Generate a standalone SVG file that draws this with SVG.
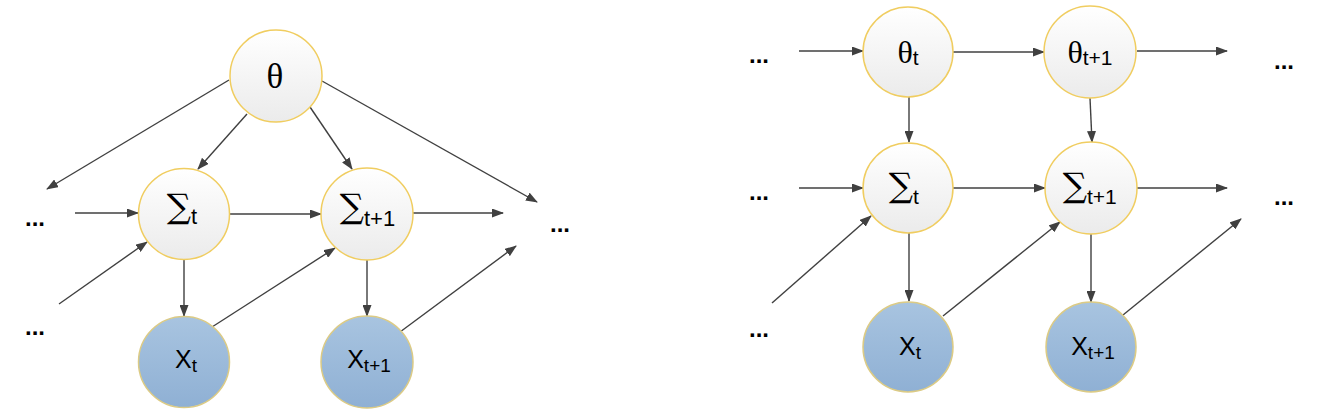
<svg xmlns="http://www.w3.org/2000/svg" width="1321" height="412" viewBox="0 0 1321 412">
<style>
.w{fill:url(#gw);stroke:#f0cd60;stroke-width:1.5}
.b{fill:url(#gb);stroke:#dccb85;stroke-width:1.5}
.e{stroke:#404040;stroke-width:1.4;fill:none;marker-end:url(#ah)}
.sym{font-family:"Liberation Serif","DejaVu Serif",serif;fill:#000}
.sig{font-family:"DejaVu Serif","Liberation Serif",serif;fill:#000;font-size:34px}
.sub{font-family:"Liberation Sans","DejaVu Sans",sans-serif;fill:#000}
.dots{font-family:"Liberation Sans","DejaVu Sans",sans-serif;font-size:24px;font-weight:bold;fill:#000}
</style>
<defs>
<linearGradient id="gw" x1="0" y1="0" x2="0" y2="1">
<stop offset="0" stop-color="#ffffff"/><stop offset="1" stop-color="#ebebeb"/>
</linearGradient>
<linearGradient id="gb" x1="0" y1="0" x2="0" y2="1">
<stop offset="0" stop-color="#a8c4e0"/><stop offset="1" stop-color="#8fb0d4"/>
</linearGradient>
<marker id="ah" markerUnits="userSpaceOnUse" markerWidth="12" markerHeight="9" refX="11" refY="4.5" orient="auto">
<path d="M0,0 L12,4.5 L0,9 z" fill="#404040"/>
</marker>
</defs>
<rect width="1321" height="412" fill="#ffffff"/>
<g id="connectors">
<line class="e" x1="229" y1="80" x2="47" y2="189"/>
<line class="e" x1="247" y1="114" x2="198" y2="169"/>
<line class="e" x1="310" y1="107" x2="352" y2="169"/>
<line class="e" x1="322" y1="81" x2="537" y2="202"/>
<line class="e" x1="75" y1="213" x2="138" y2="213"/>
<line class="e" x1="59" y1="304" x2="147" y2="242"/>
<line class="e" x1="229" y1="214" x2="321" y2="214"/>
<line class="e" x1="184" y1="260" x2="184" y2="316"/>
<line class="e" x1="212" y1="327" x2="335" y2="248"/>
<line class="e" x1="412" y1="213" x2="503" y2="213"/>
<line class="e" x1="367" y1="260" x2="367" y2="316"/>
<line class="e" x1="400" y1="332" x2="516" y2="246"/>
<line class="e" x1="799" y1="51" x2="863" y2="51"/>
<line class="e" x1="953" y1="52" x2="1044" y2="52"/>
<line class="e" x1="1137" y1="51" x2="1227" y2="51"/>
<line class="e" x1="909" y1="97" x2="909" y2="142"/>
<line class="e" x1="1090" y1="98" x2="1092" y2="142"/>
<line class="e" x1="799" y1="188" x2="863" y2="188"/>
<line class="e" x1="953" y1="188" x2="1045" y2="188"/>
<line class="e" x1="1137" y1="188" x2="1227" y2="188"/>
<line class="e" x1="772" y1="303" x2="871" y2="216"/>
<line class="e" x1="909" y1="233" x2="909" y2="301"/>
<line class="e" x1="1091" y1="233" x2="1091" y2="302"/>
<line class="e" x1="943" y1="316" x2="1060" y2="222"/>
<line class="e" x1="1123" y1="315" x2="1241" y2="219"/>
</g>
<g id="theta">
<circle class="w" cx="276" cy="76" r="46"/>
<text class="sym" x="275" y="88" font-size="35" text-anchor="middle">θ</text>
</g>
<g id="sigma_t">
<circle class="w" cx="184" cy="214" r="45.5"/>
<text class="sig" x="191" y="218" text-anchor="end">∑</text>
<text class="sub" x="191" y="224" font-size="22">t</text>
</g>
<g id="sigma_t1">
<circle class="w" cx="367" cy="214" r="46"/>
<text class="sig" x="364" y="218" text-anchor="end">∑</text>
<text class="sub" x="364" y="226" font-size="22">t+1</text>
</g>
<g id="x_t">
<circle class="b" cx="184" cy="362" r="45.5"/>
<text class="sub" x="186" y="368" font-size="25" text-anchor="middle">X<tspan font-size="19" dy="4">t</tspan></text>
</g>
<g id="x_t1">
<circle class="b" cx="367" cy="362" r="46"/>
<text class="sub" x="369" y="368" font-size="25" text-anchor="middle">X<tspan font-size="19" dy="4">t+1</tspan></text>
</g>
<g id="theta_t">
<circle class="w" cx="908" cy="52" r="45"/>
<text class="sym" x="908" y="63" font-size="32" text-anchor="middle">θ<tspan class="sub" font-size="21" dy="2">t</tspan></text>
</g>
<g id="theta_t1">
<circle class="w" cx="1090" cy="52" r="46"/>
<text class="sym" x="1090" y="63" font-size="32" text-anchor="middle">θ<tspan class="sub" font-size="21" dy="2">t+1</tspan></text>
</g>
<g id="sigma_t_r">
<circle class="w" cx="908" cy="188" r="45"/>
<text class="sig" x="913" y="197" text-anchor="end">∑</text>
<text class="sub" x="913" y="204" font-size="21">t</text>
</g>
<g id="sigma_t1_r">
<circle class="w" cx="1091" cy="188" r="46"/>
<text class="sig" x="1087" y="197" text-anchor="end">∑</text>
<text class="sub" x="1087" y="204" font-size="21">t+1</text>
</g>
<g id="x_t_r">
<circle class="b" cx="908" cy="347" r="45"/>
<text class="sub" x="910" y="355" font-size="25" text-anchor="middle">X<tspan font-size="19" dy="4">t</tspan></text>
</g>
<g id="x_t1_r">
<circle class="b" cx="1091" cy="347" r="45"/>
<text class="sub" x="1093" y="355" font-size="25" text-anchor="middle">X<tspan font-size="19" dy="4">t+1</tspan></text>
</g>
<g id="dots">
<text class="dots" x="25" y="226">...</text>
<text class="dots" x="25" y="335">...</text>
<text class="dots" x="550" y="232">...</text>
<text class="dots" x="749" y="63">...</text>
<text class="dots" x="749" y="200">...</text>
<text class="dots" x="749" y="337">...</text>
<text class="dots" x="1274" y="69">...</text>
<text class="dots" x="1274" y="205">...</text>
</g>
</svg>
